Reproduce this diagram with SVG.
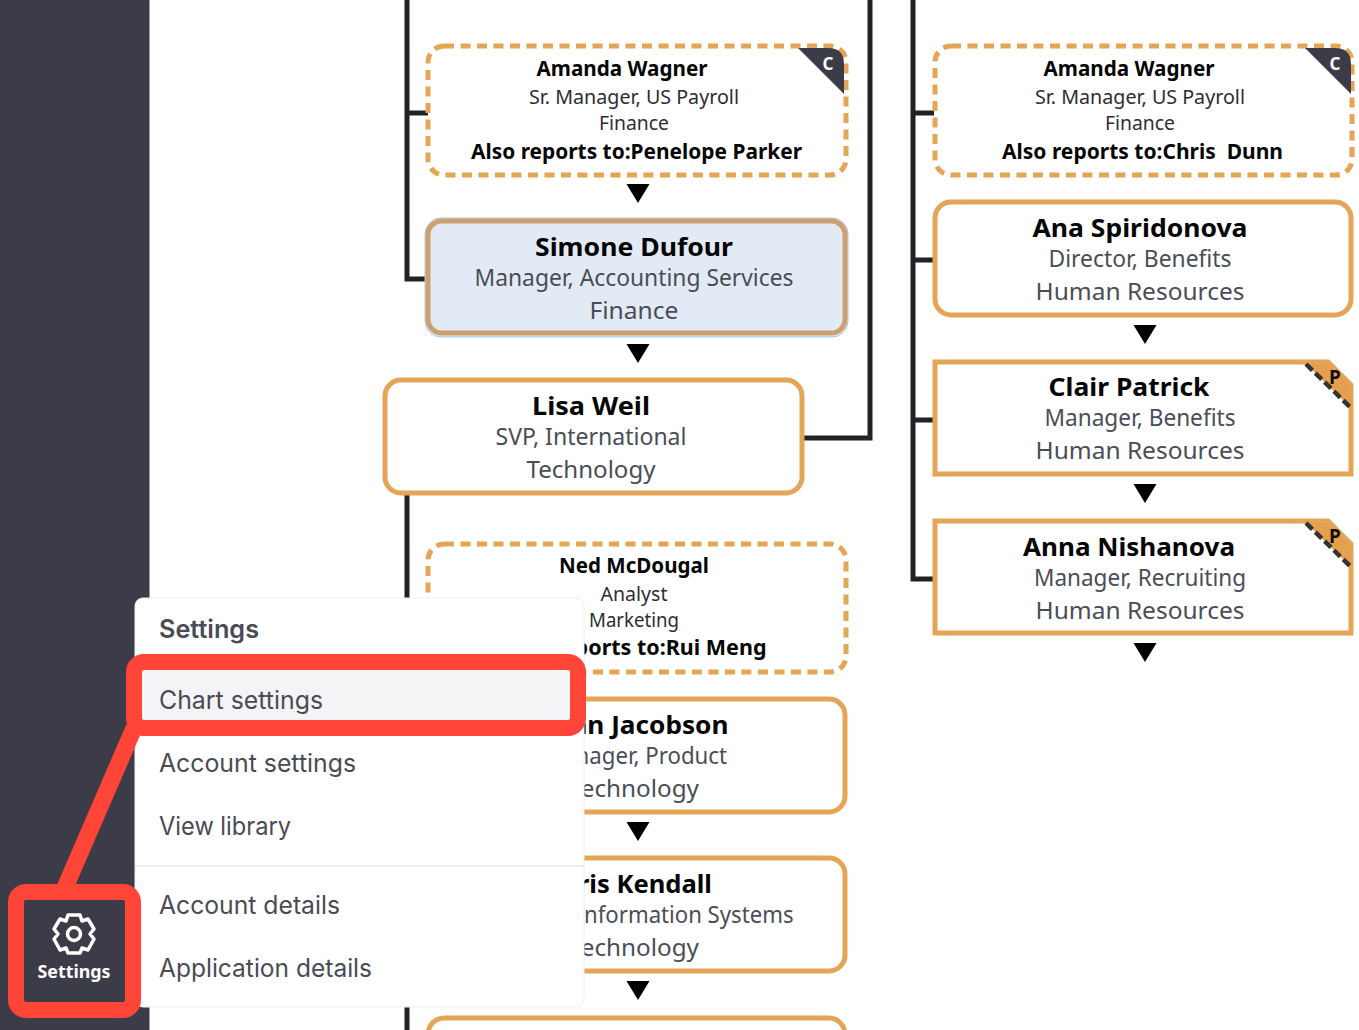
<svg xmlns="http://www.w3.org/2000/svg" width="1359" height="1030" viewBox="0 0 1359 1030">
<style>
text{font-family:"Noto Sans","DejaVu Sans",sans-serif;text-anchor:middle}
.box{fill:#fff;stroke:#e5a557;stroke-width:5}
.dash{fill:#fff;stroke:#e5a557;stroke-width:5;stroke-dasharray:10 6.500}
.n{font-size:25px;font-weight:700;fill:#050505}
.s{font-size:24px;fill:#4a4d57}
.dn{font-size:21px;font-weight:700;fill:#050505}
.ds{font-size:20px;fill:#2d2d33}
.m{font-family:Inter,"Liberation Sans",sans-serif;text-anchor:start;font-size:25px;fill:#4a4b55}
.conn{fill:none;stroke:#222226;stroke-width:5}
.red{fill:none;stroke:#ff4438;stroke-width:16}
</style>
<defs><polygon id="tri" points="-11.500,0 11.500,0 0,19" fill="#000"/></defs>
<rect width="1359" height="1030" fill="#fff"/>
<rect id="sidebar" x="0" y="0" width="149.500" height="1030" fill="#3c3c49"/>
<g id="connectors">
<path class="conn" d="M407 0V279H428M407 113H428"/>
<path class="conn" d="M804 438H870V0"/>
<path class="conn" d="M407 494V1030"/>
<path class="conn" d="M913 0V579H934M913 113H934M913 260H934M913 420H934"/>
<use href="#tri" x="638" y="184"/><use href="#tri" x="638" y="344"/>
<use href="#tri" x="638" y="822"/><use href="#tri" x="638" y="981"/>
<use href="#tri" x="1145" y="325"/><use href="#tri" x="1145" y="484"/><use href="#tri" x="1145" y="643"/>
</g>
<g id="n1"><rect class="dash" x="428" y="46" width="418" height="129" rx="16"/>
<path d="M798 48H828Q844 48 844 64V94Z" fill="#3c3c49"/><text x="828" y="70" font-size="17" font-weight="700" fill="#fff">C</text>
<text class="dn" x="622" y="76" textLength="171" lengthAdjust="spacingAndGlyphs">Amanda Wagner</text>
<text class="ds" x="634" y="103.500" textLength="210" lengthAdjust="spacingAndGlyphs">Sr. Manager, US Payroll</text>
<text class="ds" x="634" y="129.500" textLength="70" lengthAdjust="spacingAndGlyphs">Finance</text>
<text class="dn" x="636.500" y="159" textLength="331" lengthAdjust="spacingAndGlyphs">Also reports to:Penelope Parker</text></g>
<g id="n2"><rect x="425" y="218" width="423" height="119" rx="16" fill="#e2ebf5" stroke="#a9c5e0" stroke-width="1"/>
<rect x="428" y="221" width="417" height="112" rx="14" fill="#e2ebf5" stroke="#cda06f" stroke-width="5"/>
<text class="n" x="634" y="256" textLength="198" lengthAdjust="spacingAndGlyphs">Simone Dufour</text>
<text class="s" x="634" y="286" textLength="319" lengthAdjust="spacingAndGlyphs">Manager, Accounting Services</text>
<text class="s" x="634" y="319" textLength="89" lengthAdjust="spacingAndGlyphs">Finance</text></g>
<g id="n3"><rect class="box" x="385" y="380" width="417" height="113" rx="16"/>
<text class="n" x="591" y="415" textLength="118" lengthAdjust="spacingAndGlyphs">Lisa Weil</text>
<text class="s" x="591" y="445" textLength="191" lengthAdjust="spacingAndGlyphs">SVP, International</text>
<text class="s" x="591" y="478" textLength="129" lengthAdjust="spacingAndGlyphs">Technology</text></g>
<g id="n4"><rect class="dash" x="428" y="544" width="418" height="128" rx="16"/>
<text class="dn" x="634" y="573" textLength="150" lengthAdjust="spacingAndGlyphs">Ned McDougal</text>
<text class="ds" x="634" y="600.500" textLength="67" lengthAdjust="spacingAndGlyphs">Analyst</text>
<text class="ds" x="634" y="626.500" textLength="90" lengthAdjust="spacingAndGlyphs">Marketing</text>
<text class="dn" x="634" y="655" textLength="265" lengthAdjust="spacingAndGlyphs">Also reports to:Rui Meng</text></g>
<g id="n5"><rect class="box" x="428" y="699" width="417" height="113" rx="16"/>
<text class="n" x="634" y="734" textLength="189" lengthAdjust="spacingAndGlyphs">Ryan Jacobson</text>
<text class="s" x="635" y="764" textLength="184" lengthAdjust="spacingAndGlyphs">Manager, Product</text>
<text class="s" x="634" y="797" textLength="130" lengthAdjust="spacingAndGlyphs">Technology</text></g>
<g id="n6"><rect class="box" x="428" y="858" width="417" height="113" rx="16"/>
<text class="n" x="640" y="893" textLength="144" lengthAdjust="spacingAndGlyphs">Iris Kendall</text>
<text class="s" x="634" y="923" textLength="319" lengthAdjust="spacingAndGlyphs">Manager, Information Systems</text>
<text class="s" x="634" y="956" textLength="130" lengthAdjust="spacingAndGlyphs">Technology</text></g>
<g id="n7"><rect class="box" x="428" y="1018" width="417" height="40" rx="16"/></g>
<g id="r1"><rect class="dash" x="935" y="46" width="417" height="129" rx="16"/>
<path d="M1305 48H1335Q1351 48 1351 64V94Z" fill="#3c3c49"/><text x="1335" y="70" font-size="17" font-weight="700" fill="#fff">C</text>
<text class="dn" x="1129" y="76" textLength="171" lengthAdjust="spacingAndGlyphs">Amanda Wagner</text>
<text class="ds" x="1140" y="103.500" textLength="210" lengthAdjust="spacingAndGlyphs">Sr. Manager, US Payroll</text>
<text class="ds" x="1140" y="129.500" textLength="70" lengthAdjust="spacingAndGlyphs">Finance</text>
<text class="dn" x="1142.500" y="159" textLength="281" lengthAdjust="spacingAndGlyphs" xml:space="preserve">Also reports to:Chris  Dunn</text></g>
<g id="r2"><rect class="box" x="935" y="202" width="416" height="113" rx="16"/>
<text class="n" x="1140" y="237" textLength="215" lengthAdjust="spacingAndGlyphs">Ana Spiridonova</text>
<text class="s" x="1140" y="267" textLength="183" lengthAdjust="spacingAndGlyphs">Director, Benefits</text>
<text class="s" x="1140" y="300" textLength="209" lengthAdjust="spacingAndGlyphs">Human Resources</text></g>
<g id="r3"><path class="box" d="M935 362H1328L1351 385V474H935Z"/>
<path d="M1306 364H1328L1351 387V408Z" fill="#e5a04f"/><path d="M1306 364L1351 408" stroke="#333" stroke-width="4.500" stroke-dasharray="9 4"/>
<text x="1335" y="384" font-size="19" font-weight="700" fill="#111">P</text>
<text class="n" x="1129" y="396" textLength="161" lengthAdjust="spacingAndGlyphs">Clair Patrick</text>
<text class="s" x="1140" y="426" textLength="191" lengthAdjust="spacingAndGlyphs">Manager, Benefits</text>
<text class="s" x="1140" y="459" textLength="209" lengthAdjust="spacingAndGlyphs">Human Resources</text></g>
<g id="r4"><path class="box" d="M935 521H1328L1351 544V633H935Z"/>
<path d="M1306 523H1328L1351 546V567Z" fill="#e5a04f"/><path d="M1306 523L1351 567" stroke="#333" stroke-width="4.500" stroke-dasharray="9 4"/>
<text x="1335" y="543" font-size="19" font-weight="700" fill="#111">P</text>
<text class="n" x="1129" y="556" textLength="212" lengthAdjust="spacingAndGlyphs">Anna Nishanova</text>
<text class="s" x="1140" y="586" textLength="212" lengthAdjust="spacingAndGlyphs">Manager, Recruiting</text>
<text class="s" x="1140" y="619" textLength="209" lengthAdjust="spacingAndGlyphs">Human Resources</text></g>
<g id="menu"><rect x="135" y="598" width="449" height="409" rx="8" fill="#fff" stroke="#eeeef0" stroke-width="1"/>
<rect x="142" y="670" width="428" height="50" fill="#f4f4f6"/>
<line x1="135" y1="866" x2="584" y2="866" stroke="#dcdce0" stroke-width="1"/>
<text class="m" x="159" y="638" style="font-weight:600" textLength="100" lengthAdjust="spacingAndGlyphs">Settings</text>
<text class="m" x="159" y="709" textLength="164" lengthAdjust="spacingAndGlyphs">Chart settings</text>
<text class="m" x="159" y="772" textLength="197" lengthAdjust="spacingAndGlyphs">Account settings</text>
<text class="m" x="159" y="835" textLength="132" lengthAdjust="spacingAndGlyphs">View library</text>
<text class="m" x="159" y="914" textLength="181" lengthAdjust="spacingAndGlyphs">Account details</text>
<text class="m" x="159" y="977" textLength="213" lengthAdjust="spacingAndGlyphs">Application details</text></g>
<g id="settings"><g fill="none" stroke="#fff" stroke-width="3.500" stroke-linejoin="round">
<circle cx="74" cy="934" r="6.500"/>
<path d="M68 915H80L82 921L88 919L94 929L90 934L94 939L88 950L82 948L80 953H68L66 948L60 950L54 939L58 934L54 929L60 919L66 921Z"/></g>
<text x="74" y="978" font-family="Inter,'Liberation Sans',sans-serif" font-size="18" font-weight="700" fill="#fff" textLength="73" lengthAdjust="spacingAndGlyphs">Settings</text></g>
<g id="highlight">
<path d="M134 728L64 890" fill="none" stroke="#ff4438" stroke-width="17"/>
<rect class="red" x="134" y="662" width="444" height="66" rx="10"/>
<rect class="red" x="16" y="892" width="117" height="118" rx="10"/>
</g>
</svg>
